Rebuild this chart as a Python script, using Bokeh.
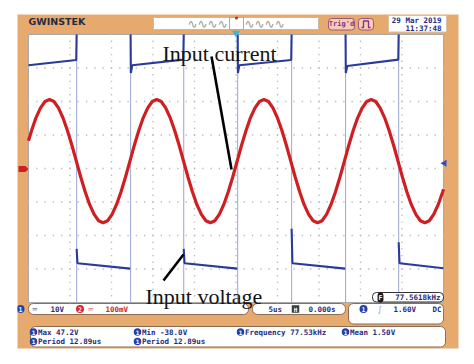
import math
from bokeh.plotting import figure
from bokeh.models import Range1d, BoxAnnotation, Label
from bokeh.embed import file_html
from bokeh.resources import INLINE

nan = float("nan")

# ---------------- values ----------------
us_per_div = 5          # time base
ch1_v_per_div = 10      # CH1 (input voltage)
ch2_mv_per_div = 100    # CH2 (input current)
n_xdiv = 10
n_ydiv = 8
trigger_level_v = 1.60
trigger_pos_us = 25.0

# fast switching edges of CH1 (us)
edge_times_us = [5.8, 12.3, 18.7, 25.2, 31.7, 38.2, 44.6]

# CH1 trace (V); NaN breaks the trace at the fast edges
ch1_t_us = [0.0, 5.75, 5.8, nan,
            5.8, 5.9, 12.25, nan,
            12.3, 12.33, 12.5, 18.65, 18.7, nan,
            18.7, 18.8, 25.15, nan,
            25.2, 25.23, 25.4, 31.65, 31.7, nan,
            31.7, 31.8, 38.15, nan,
            38.2, 38.23, 38.4, 44.55, 44.6, nan,
            44.6, 44.7, 50.0]
ch1_v = [30.8, 32.4, 40, nan,
         -24, -28.3, -29.9, nan,
         40, 28.5, 30.8, 32.5, 40, nan,
         -24, -28.3, -29.9, nan,
         40, 28.5, 30.8, 32.4, 40, nan,
         -18, -28.3, -29.9, nan,
         40, 28.5, 30.6, 32.5, 40, nan,
         -22, -28.3, -29.8]

# CH2 trace (mV)
ch2_t_us = [0.00, 0.38, 0.91, 1.45, 1.99, 2.53, 3.07, 3.61, 4.14, 4.68, 5.22, 5.76,
            6.30, 6.84, 7.37, 7.91, 8.45, 8.99, 9.53, 10.07, 10.60, 11.14, 11.68,
            12.22, 12.76, 13.30, 13.83, 14.37, 14.91, 15.45, 15.99, 16.53, 17.06,
            17.60, 18.14, 18.68, 19.22, 19.76, 20.29, 20.83, 21.37, 21.91, 22.45,
            22.99, 23.52, 24.06, 24.60, 25.14, 25.68, 26.22, 26.75, 27.29, 27.83,
            28.37, 28.91, 29.45, 29.98, 30.52, 31.06, 31.60, 32.14, 32.68, 33.21,
            33.75, 34.29, 34.83, 35.37, 35.91, 36.44, 36.98, 37.52, 38.06, 38.60,
            39.13, 39.67, 40.21, 40.75, 41.29, 41.83, 42.36, 42.90, 43.44, 43.98,
            44.52, 45.06, 45.59, 46.13, 46.67, 47.21, 47.75, 48.29, 48.82, 49.36,
            49.90, 50.00]
ch2_mv = [83, 114, 152, 181, 200,
          206, 200, 181, 152, 114, 70, 22, -26, -70, -108, -137, -156,
          -162, -156, -137, -108, -70, -26, 22, 70, 114, 152, 181, 200,
          206, 200, 181, 152, 114, 70, 22, -26, -70, -108, -137, -156,
          -162, -156, -137, -108, -70, -26, 22, 70, 114, 152, 181, 200,
          206, 200, 181, 152, 114, 70, 22, -26, -70, -108, -137, -156,
          -162, -156, -137, -108, -70, -26, 22, 70, 114, 152, 181, 200,
          206, 200, 181, 152, 114, 70, 22, -26, -70, -108, -137, -156,
          -162, -156, -137, -108, -70, -62]

status_ch1 = "10V"
status_ch2 = "100mV"
status_time = "5us"
status_delay = "0.000s"
status_trig = "1.60V"
status_coupling = "DC"
freq_counter = "77.5618kHz"
meas_row1 = ["Max 47.2V", "Min -38.0V", "Frequency 77.53kHz", "Mean 1.50V"]
meas_row2 = ["Period 12.89us", "Period 12.89us"]
date_text = ["29 Mar 2019", "11:37:48"]

# ---------------- layout helpers (image pixels -> data) ----------------
PXU = 415 / (n_xdiv * us_per_div)       # px per us
PXV = 268 / (n_ydiv * ch1_v_per_div)    # px per V
def X(px):
    return (px - 28) / PXU
def Y(py):
    return (168 - py) / PXV

ORANGE = "#e6a96e"
NAVY = "#1f2c7c"
BLUE_ICON = "#2242a8"
RED = "#cf1f22"
MONO = "DejaVu Sans Mono"

p = figure(width=466, height=356, output_backend="svg", toolbar_location=None,
           x_range=Range1d(X(17), X(458)), y_range=Range1d(Y(348), Y(14)),
           x_axis_location=None, y_axis_location=None,
           min_border_left=17, min_border_right=8, min_border_top=14, min_border_bottom=8,
           background_fill_color=ORANGE, border_fill_color="white",
           outline_line_color=None)
p.grid.visible = False
r = ch2_mv_per_div / ch1_v_per_div
p.extra_y_ranges = {"ch2": Range1d(Y(348) * r, Y(14) * r)}

def box(x0, x1, y0, y1, fill="white", line="#8c6c52", radius=4, level="underlay", lw=1):
    b = BoxAnnotation(left=X(x0), right=X(x1), top=Y(y0), bottom=Y(y1),
                      fill_color=fill, fill_alpha=1 if fill else 0,
                      line_color=line, line_alpha=1 if line else 0, line_width=lw,
                      border_radius=radius, level=level)
    p.add_layout(b)
    return b

def lab(px, py, text, size="7.5px", color=NAVY, font=MONO, style="bold", align="left",
        baseline="middle", **kw):
    l = Label(x=X(px), y=Y(py), text=text, text_font=font, text_font_size=size,
              text_color=color, text_font_style=style, text_align=align,
              text_baseline=baseline, **kw)
    p.add_layout(l)
    return l

# ---------------- graticule ----------------
half_v = n_ydiv / 2 * ch1_v_per_div
t_end = n_xdiv * us_per_div
p.quad(left=0, right=t_end, bottom=-half_v, top=half_v,
       fill_color="white", line_color="#a8a8a8", line_width=1)
gx, gy = [], []
for j in range(1, n_ydiv):
    yv = -half_v + j * ch1_v_per_div
    for k in range(0, n_xdiv * 5 + 1):
        gx.append(k * us_per_div / 5)
        gy.append(yv)
for i in range(1, n_xdiv):
    for k in range(0, n_ydiv * 5 + 1):
        gx.append(i * us_per_div)
        gy.append(-half_v + k * ch1_v_per_div / 5)
p.scatter(gx, gy, marker="square", size=1.4, fill_color="#bdbdbd", line_color=None)

# ---------------- traces ----------------
p.segment(x0=edge_times_us, y0=[-half_v] * len(edge_times_us),
          x1=edge_times_us, y1=[half_v] * len(edge_times_us),
          line_color="#a2afd6", line_width=1.1)
p.line(ch1_t_us, ch1_v, line_color="#2a3a9c", line_width=2.1)
p.line(ch2_t_us, ch2_mv, y_range_name="ch2", line_color=RED, line_width=3.2)

# markers on the frame
p.patch([X(18), X(25), X(28), X(25), X(18)], [Y(165.5), Y(165.5), Y(168.5), Y(171.5), Y(171.5)],
        fill_color=RED, line_color=None)
p.scatter([X(444)], [trigger_level_v], marker="triangle", angle=math.pi / 2, size=7,
          fill_color="#2a4fc4", line_color=None)
p.scatter([trigger_pos_us], [Y(32.5)], marker="inverted_triangle", size=8,
          fill_color="#3db4d8", line_color=None)

# pointer lines of the annotations
p.segment(x0=[X(211), X(163)], y0=[Y(56), Y(280)], x1=[X(231), X(183)], y1=[Y(169), Y(254)],
          line_color="black", line_width=2.6)

# ---------------- top bar ----------------
lab(28, 20.5, "GWINSTEK", size="9.5px", color="#262b44", font="DejaVu Sans")
box(153, 318, 17, 29, fill="white", line="#c8b8a8", radius=1)
lab(187, 23.5, "∿∿∿∿", size="12px", color="#9a9a9a", font="DejaVu Sans", style="normal")
lab(244, 23.5, "∿∿∿∿", size="12px", color="#9a9a9a", font="DejaVu Sans", style="normal")
box(229, 243, 17, 29, fill=None, line="#7fb8d8", radius=0)
p.scatter([X(236)], [Y(17.5)], marker="circle", size=3, fill_color=RED, line_color=None)
box(328, 354, 18, 29.5, fill="#f5cdb4", line="#9a5878", radius=3)
lab(341, 23.8, "Trig'd", size="7px", color="#86308a", align="center")
box(358, 373, 18, 29.5, fill="#f5cdb4", line="#9a5878", radius=3)
p.line([X(361), X(363), X(363), X(368), X(368), X(370)],
       [Y(27), Y(27), Y(20.5), Y(20.5), Y(27), Y(27)], line_color="#86308a", line_width=1.3)
box(388, 446, 15, 31.5, fill="white", line="#d8c0a0", radius=0)
lab(441, 20, date_text[0], size="7.5px", align="right")
lab(441, 27.5, date_text[1], size="7.5px", align="right")

# ---------------- status row ----------------
box(28, 248, 303, 314, radius=5)
box(252, 345, 303, 314, radius=5)
box(348, 443, 303, 323.5, radius=5)
box(30, 445, 326, 346.5, radius=5)
p.scatter([X(20), X(363)], [Y(308.5), Y(308.5)], marker="circle", size=8,
          fill_color=BLUE_ICON, line_color=None)
p.scatter([X(79.5)], [Y(308.5)], marker="circle", size=8, fill_color="#d8282a", line_color=None)
p.scatter([X(295)], [Y(308.5)], marker="square", size=7.5, fill_color="#3a3a3a", line_color=None)
lab(20, 308.8, "1", size="6.5px", color="white", align="center")
lab(363, 308.8, "1", size="6.5px", color="white", align="center")
lab(79.5, 308.8, "2", size="6.5px", color="white", align="center")
lab(295, 308.8, "H", size="6px", color="white", align="center")
lab(32, 308.5, "═", size="7.5px", color=NAVY)
lab(50, 308.8, status_ch1)
lab(88, 308.5, "═", size="7.5px", color=RED)
lab(105, 308.8, status_ch2, color=RED)
lab(268, 308.8, status_time)
lab(308, 308.8, status_delay)
lab(377, 308.8, "∫", size="8px", color="#8a98c8", font="DejaVu Sans", style="normal")
lab(393, 308.8, status_trig)
lab(441, 308.8, status_coupling, align="right")

# measurement panel
icon_x1 = [33, 137, 240, 345]
icon_x2 = [33, 137]
p.scatter([X(v) for v in icon_x1] + [X(v) for v in icon_x2],
          [Y(331.5)] * 4 + [Y(341)] * 2, marker="circle", size=7.5,
          fill_color=BLUE_ICON, line_color=None)
for xv in icon_x1:
    lab(xv, 331.8, "1", size="6px", color="white", align="center")
for xv in icon_x2:
    lab(xv, 341.3, "1", size="6px", color="white", align="center")
for xv, t in zip(icon_x1, meas_row1):
    lab(xv + 4.5, 331.8, t)
for xv, t in zip(icon_x2, meas_row2):
    lab(xv + 4.5, 341.3, t)

# frequency counter box (drawn over the graticule)
box(372, 443, 292, 301.5, fill="white", line="#333333", radius=4, level="annotation")
lab(380, 297, "F", size="6.5px", color="white", align="center",
    background_fill_color="#1a1a1a", background_fill_alpha=1, padding=1, border_radius=3)
lab(440, 297, freq_counter, align="right")

# ---------------- annotation texts ----------------
lab(162, 53, "Input current", size="22px", color="#141414", font="Liberation Serif",
    style="normal", baseline="alphabetic")
lab(145, 295.5, "Input voltage", size="22px", color="#141414", font="Liberation Serif",
    style="normal", baseline="alphabetic")

open("out.html", "w").write(file_html(p, INLINE))
